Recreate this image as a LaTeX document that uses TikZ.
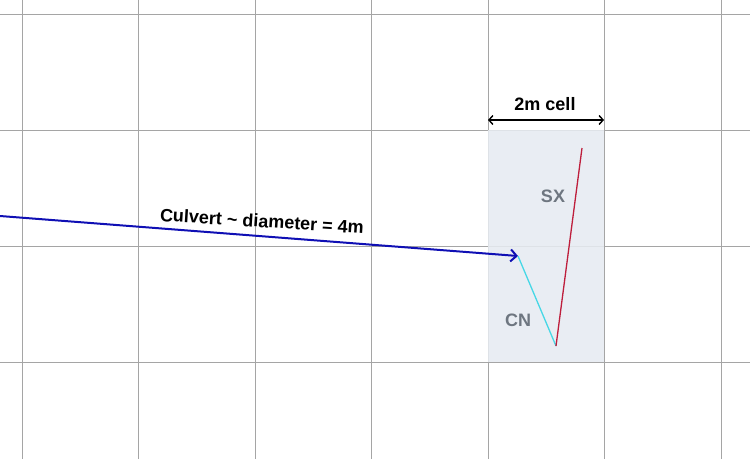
\documentclass[tikz,border=0pt]{standalone}
\usepackage{fontspec}
\setmainfont{Liberation Sans}
\usetikzlibrary{arrows.meta}
\definecolor{gridgray}{RGB}{165,165,165}
\definecolor{cellfill}{RGB}{230,235,241}
\definecolor{culvblue}{RGB}{15,15,180}
\definecolor{cnline}{RGB}{70,215,230}
\definecolor{sxline}{RGB}{190,30,60}
\definecolor{lblgray}{RGB}{110,118,128}
\tikzset{lbl/.style={font=\fontsize{18}{20}\selectfont\bfseries}}

\begin{document}
\begin{tikzpicture}[x=1pt,y=-1pt]
\useasboundingbox (0,0) rectangle (750,459);
\foreach \x in {22,138.5,255,371.5,488,604,721} \draw[gridgray,line width=1pt] (\x,0) -- (\x,459);
\foreach \y in {14,130,246,362} \draw[gridgray,line width=1pt] (0,\y) -- (750,\y);
\fill[cellfill,opacity=0.88] (488,130) rectangle (604,362);
\coordinate (src) at (0,216);
\coordinate (CN) at (518,256);
\coordinate (low) at (556,346);
\coordinate (SX) at (582,148);
\coordinate (dl) at (488,120);
\coordinate (dr) at (604,120);
\draw[-{Straight Barb[length=6pt,width=12pt]},culvblue,line width=2pt] (src) to (CN);
\draw[cnline,line width=1.3pt] (CN) to (low);
\draw[sxline,line width=1.3pt] (low) to (SX);
\draw[{Straight Barb[length=4pt,width=9pt]}-{Straight Barb[length=4pt,width=9pt]},line width=1.4pt] (dl) to (dr);
\node[lbl,rotate=-3.6] (culv) at (262,221) {Culvert \textasciitilde{} diameter = 4m};
\node[lbl] (cell) at (545,104) {2m cell};
\node[lbl,lblgray] (sxlbl) at (553,196) {SX};
\node[lbl,lblgray] (cnlbl) at (518,320) {CN};
\end{tikzpicture}
\end{document}
